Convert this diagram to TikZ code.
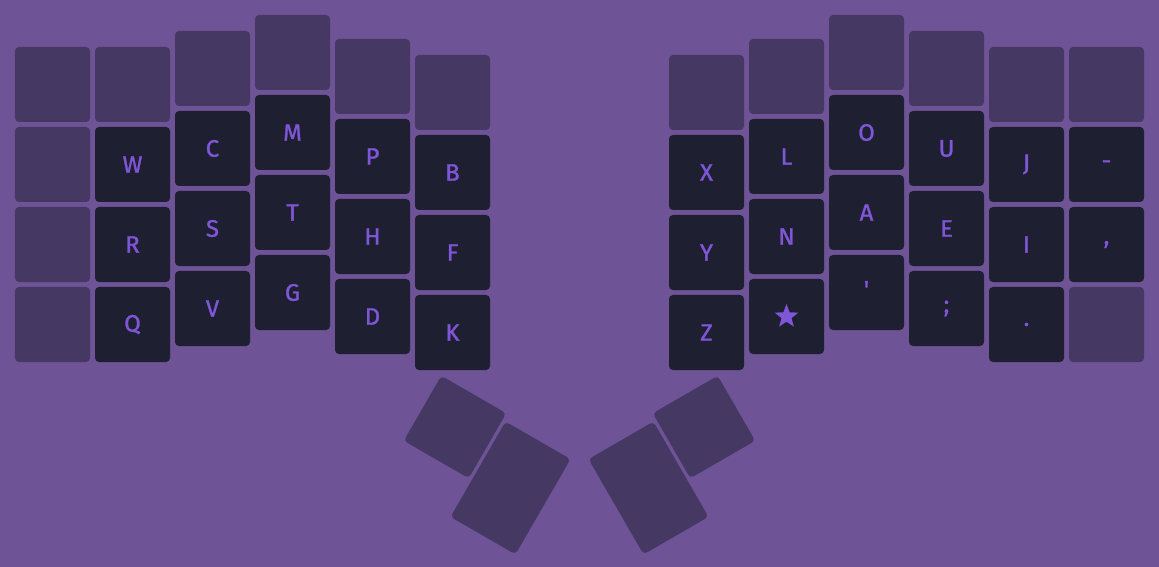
\documentclass[tikz,border=0pt]{standalone}
\usepackage{fontspec}
\setmainfont{Fira Sans}
\newfontfamily\keyfont[FakeBold=1.2]{Fira Sans}
\usetikzlibrary{shapes.geometric}
\definecolor{bgc}{RGB}{110,83,150}
\definecolor{emptyc}{RGB}{69,56,99}
\definecolor{keyc}{RGB}{30,31,49}
\definecolor{txtc}{RGB}{128,86,216}
\tikzset{
  keybase/.style={rectangle, minimum width=75bp, minimum height=75bp, rounded corners=4bp, inner sep=0pt, draw=none},
  emptykey/.style={keybase, fill=emptyc},
  fullkey/.style={keybase, fill=keyc, text=txtc, font=\keyfont\fontsize{24}{24}\selectfont},
  thumbkey/.style={keybase, fill=emptyc, minimum height=#1},
  starmark/.style={star, star points=5, star point ratio=2.4, fill=txtc, draw=none, minimum size=25bp, inner sep=0pt}
}
\begin{document}
\begin{tikzpicture}[x=1bp,y=1bp]
\fill[bgc] (0,0) rectangle (1159,-567);
\useasboundingbox (0,0) rectangle (1159,-567);
% left half: column x, top y, labels
\foreach \c/\x/\t/\la/\lb/\lc in {0/15/47/{}/{}/{},1/95/47/W/R/Q,2/175/31/C/S/V,3/255/15/M/T/G,4/335/39/P/H/D,5/415/55/B/F/K}{
  \node[emptykey] (L\c r0) at (\x+37.5,-\t-37.5) {};
  \ifnum\c=0
    \node[emptykey] (L\c r1) at (\x+37.5,-\t-117.5) {};
    \node[emptykey] (L\c r2) at (\x+37.5,-\t-197.5) {};
    \node[emptykey] (L\c r3) at (\x+37.5,-\t-277.5) {};
  \else
    \node[fullkey] (L\c r1) at (\x+37.5,-\t-117.5) {\la};
    \node[fullkey] (L\c r2) at (\x+37.5,-\t-197.5) {\lb};
    \node[fullkey] (L\c r3) at (\x+37.5,-\t-277.5) {\lc};
  \fi
}
% right half
\foreach \c/\x/\t/\la/\lb in {5/669/55/X/Y,4/749/39/L/N,3/829/15/O/A,2/909/31/U/E,1/989/47/J/I}{
  \node[emptykey] (R\c r0) at (\x+37.5,-\t-37.5) {};
  \node[fullkey] (R\c r1) at (\x+37.5,-\t-117.5) {\la};
  \node[fullkey] (R\c r2) at (\x+37.5,-\t-197.5) {\lb};
}
\node[fullkey] (R5r3) at (706.5,-55-277.5) {Z};
\node[fullkey] (R4r3) at (786.5,-39-277.5) {};
\node[starmark] (star) at (R4r3.center) {};
\node[fullkey] (R3r3) at (866.5,-15-277.5) {\raisebox{0.5ex}{\textquotesingle}};
\node[fullkey] (R2r3) at (946.5,-31-277.5) {;};
\node[fullkey] (R1r3) at (1026.5,-47-277.5) {.};
\node[emptykey] (R0r0) at (1106.5,-47-37.5) {};
\node[fullkey] (R0r1) at (1106.5,-47-117.5) {-};
\node[fullkey] (R0r2) at (1106.5,-47-197.5) {,};
\node[emptykey] (R0r3) at (1106.5,-47-277.5) {};
% thumbs
\node[thumbkey=75bp, rotate=-30] (LT1) at (455,-427) {};
\node[thumbkey=110bp, rotate=-30] (LT2) at (510.5,-488) {};
\node[thumbkey=75bp, rotate=30] (RT1) at (704,-427) {};
\node[thumbkey=110bp, rotate=30] (RT2) at (648.5,-488) {};
\end{tikzpicture}
\end{document}
